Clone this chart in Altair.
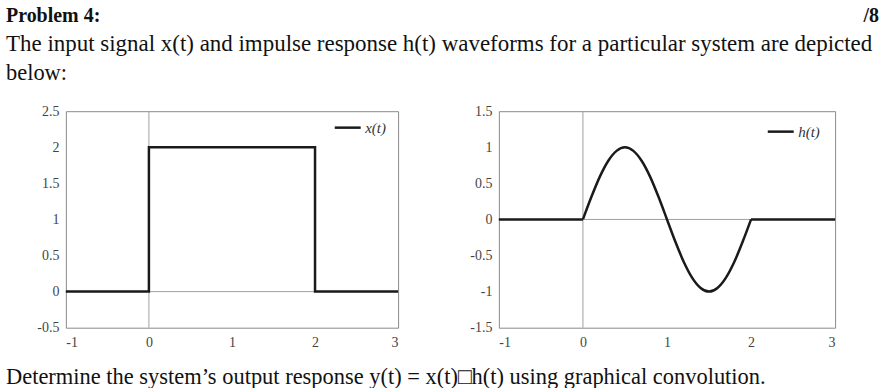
import altair as alt
import pandas as pd

# ---------------- data ----------------
# x(t): rectangular pulse
x_t = [-1, 0, 0, 2, 2, 3]
x_vals = [0, 0, 2, 2, 0, 0]

# h(t): one sine-like cycle between 0 and 2, zero elsewhere
h_seg = ["pre", "pre"] + ["wave"] * 21 + ["post", "post"]
h_t = [-1, 0,
       0.0, 0.1, 0.2, 0.3, 0.4, 0.5, 0.6, 0.7, 0.8, 0.9, 1.0,
       1.1, 1.2, 1.3, 1.4, 1.5, 1.6, 1.7, 1.8, 1.9, 2.0,
       2, 3]
h_vals = [0, 0,
          0.0, 0.31, 0.59, 0.81, 0.95, 1.0, 0.95, 0.81, 0.59, 0.31, 0.0,
          -0.31, -0.59, -0.81, -0.95, -1.0, -0.95, -0.81, -0.59, -0.31, 0.0,
          0, 0]

x_ticks = [-1, 0, 1, 2, 3]
left_y_ticks = [-0.5, 0, 0.5, 1, 1.5, 2, 2.5]
right_y_ticks = [-1.5, -1, -0.5, 0, 0.5, 1, 1.5]

problem_title = "Problem 4:"
problem_marks = "/8"
intro_line1 = "The input signal x(t) and impulse response h(t) waveforms for a particular system are depicted"
intro_line2 = "below:"
question = "Determine the system\u2019s output response y(t) = x(t)\u25a1h(t) using graphical convolution."

# ---------------- helpers ----------------
SERIF = "Liberation Serif"
LINE_COLOR = "#1a1a1a"
ZERO_COLOR = "#a0a0a0"
LABEL_STYLE = dict(labelFont=SERIF, labelFontSize=14, labelColor="#444",
                   labelOverlap=False, grid=False, domain=False, ticks=False, title=None,
                   labelExpr="'' + datum.value")
X_DOMAIN = [-1, 3]


def x_enc():
    return alt.X("t:Q", scale=alt.Scale(domain=X_DOMAIN, nice=False, zero=False),
                 axis=alt.Axis(values=x_ticks, labelPadding=8, **LABEL_STYLE))


def y_enc(dom, vals):
    return alt.Y("v:Q", scale=alt.Scale(domain=dom, nice=False, zero=False),
                 axis=alt.Axis(values=vals, labelPadding=7, **LABEL_STYLE))


def legend(lx, ly):
    return alt.Legend(orient="none", legendX=lx, legendY=ly, title=None, symbolType="stroke",
                      symbolSize=676, symbolStrokeWidth=2.5, labelFont=SERIF,
                      labelFontStyle="italic", labelFontSize=15, labelColor="#333",
                      labelOffset=3, padding=0)


def zero_lines(ydom, yvals):
    vx = alt.Chart(pd.DataFrame({"t": [0]})).mark_rule(color=ZERO_COLOR, strokeWidth=1).encode(
        x=x_enc())
    hy = alt.Chart(pd.DataFrame({"v": [0]})).mark_rule(color=ZERO_COLOR, strokeWidth=1).encode(
        y=y_enc(ydom, yvals))
    return vx, hy


def text_chart(s, x, y, size, weight="normal", align="left"):
    return alt.Chart(pd.DataFrame({"s": [s]})).mark_text(
        align=align, baseline="alphabetic", font=SERIF, fontSize=size,
        fontWeight=weight, color="#111").encode(
        x=alt.value(x), y=alt.value(y), text="s:N")


# ---------------- left panel: x(t) ----------------
df_x = pd.DataFrame({"t": x_t, "v": x_vals, "i": list(range(len(x_t))), "name": ["x(t)"] * len(x_t)})
yd_l = [-0.5, 2.5]
vx_l, hy_l = zero_lines(yd_l, left_y_ticks)
line_x = alt.Chart(df_x).mark_line(strokeWidth=2.5).encode(
    x=x_enc(),
    y=y_enc(yd_l, left_y_ticks),
    color=alt.Color("name:N", scale=alt.Scale(range=[LINE_COLOR]), legend=legend(268, 2)),
    order="i:Q",
)

left = alt.layer(
    vx_l, hy_l, line_x,
    text_chart(problem_title, -60, -89, 20, "bold"),
    text_chart(problem_marks, 815, -89, 20, "bold", "right"),
    text_chart(intro_line1, -60, -60, 23),
    text_chart(intro_line2, -60, -31, 22.5),
    text_chart(question, -60, 273, 22.5),
).properties(width=333, height=217)

# ---------------- right panel: h(t) ----------------
df_h = pd.DataFrame({"t": h_t, "v": h_vals, "seg": h_seg, "i": list(range(len(h_t))), "name": ["h(t)"] * len(h_t)})
yd_r = [-1.5, 1.5]
vx_r, hy_r = zero_lines(yd_r, right_y_ticks)
line_h = alt.Chart(df_h).mark_line(strokeWidth=2.5, interpolate="monotone").encode(
    x=x_enc(),
    y=y_enc(yd_r, right_y_ticks),
    color=alt.Color("name:N", scale=alt.Scale(range=[LINE_COLOR]), legend=legend(268, 6)),
    detail="seg:N",
    order="i:Q",
)

right = alt.layer(vx_r, hy_r, line_h).properties(width=337, height=217)

chart = alt.hconcat(left, right, spacing=101, bounds="flush").resolve_scale(
    color="independent"
).properties(
    padding={"left": 5, "top": 5, "right": 3, "bottom": 0},
    background="white",
).configure_view(
    stroke="#8a8a8a", strokeWidth=1
)

chart.save("out.html", embed_options={"renderer": "svg", "actions": False})
